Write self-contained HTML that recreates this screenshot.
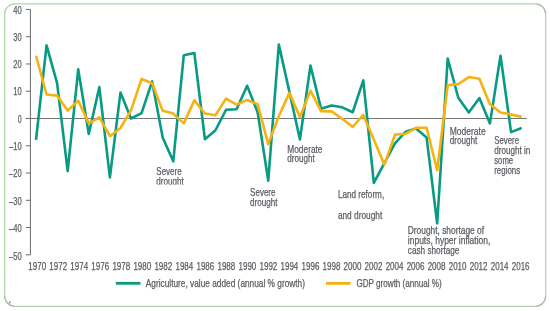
<!DOCTYPE html>
<html><head><meta charset="utf-8"><style>
html,body{margin:0;padding:0;background:#fff;}
svg{display:block;will-change:transform;}
text{font-family:"Liberation Sans",sans-serif;}
</style></head><body>
<svg width="550" height="311" viewBox="0 0 550 311">
<defs><linearGradient id="fg" x1="0" y1="0" x2="1" y2="1"><stop offset="0" stop-color="#a9d6a3"/><stop offset="0.5" stop-color="#b4d2ae"/><stop offset="1" stop-color="#b9c8b6"/></linearGradient>
<clipPath id="c1"><rect x="140" y="150" width="60" height="34.4"/></clipPath></defs>
<path d="M4.6,295.8 L4.6,14.3 A10.5,10.5 0 0 1 15.1,3.8 L535.2,3.8" fill="none" stroke="#acd6a6" stroke-width="1.3"/>
<path d="M545.7,14.3 L545.7,295.8 M535.2,306.3 L15.1,306.3" fill="none" stroke="#b9cab6" stroke-width="1.2"/>
<path d="M535.2,3.8 A10.5,10.5 0 0 1 545.7,14.3 M545.7,295.8 A10.5,10.5 0 0 1 535.2,306.3 M15.1,306.3 A10.5,10.5 0 0 1 4.6,295.8" fill="none" stroke="#a4b9a1" stroke-width="1.3"/>
<path d="M8.7,303.2 L9.7,300.4 L10.8,303.2 Z" fill="#5d6e5c" opacity="0.75"/>
<line x1="30.4" y1="9.42" x2="30.4" y2="254.85" stroke="#6b6b6b" stroke-width="1"/>
<line x1="25.8" y1="9.42" x2="30.4" y2="9.42" stroke="#6b6b6b" stroke-width="1"/>
<line x1="25.8" y1="36.69" x2="30.4" y2="36.69" stroke="#6b6b6b" stroke-width="1"/>
<line x1="25.8" y1="63.96" x2="30.4" y2="63.96" stroke="#6b6b6b" stroke-width="1"/>
<line x1="25.8" y1="91.23" x2="30.4" y2="91.23" stroke="#6b6b6b" stroke-width="1"/>
<line x1="25.8" y1="118.50" x2="30.4" y2="118.50" stroke="#6b6b6b" stroke-width="1"/>
<line x1="25.8" y1="145.77" x2="30.4" y2="145.77" stroke="#6b6b6b" stroke-width="1"/>
<line x1="25.8" y1="173.04" x2="30.4" y2="173.04" stroke="#6b6b6b" stroke-width="1"/>
<line x1="25.8" y1="200.31" x2="30.4" y2="200.31" stroke="#6b6b6b" stroke-width="1"/>
<line x1="25.8" y1="227.58" x2="30.4" y2="227.58" stroke="#6b6b6b" stroke-width="1"/>
<line x1="25.8" y1="254.85" x2="30.4" y2="254.85" stroke="#6b6b6b" stroke-width="1"/>
<line x1="30.4" y1="118.50" x2="527" y2="118.50" stroke="#777" stroke-width="1"/>
<g fill="#5a5d62" stroke="#5a5d62" stroke-width="0.25" font-family="Liberation Sans, sans-serif">
<text x="21.6" y="13.62" font-size="10.3" textLength="8.4" lengthAdjust="spacingAndGlyphs" text-anchor="end" >40</text>
<text x="21.6" y="40.89" font-size="10.3" textLength="8.4" lengthAdjust="spacingAndGlyphs" text-anchor="end" >30</text>
<text x="21.6" y="68.16" font-size="10.3" textLength="8.4" lengthAdjust="spacingAndGlyphs" text-anchor="end" >20</text>
<text x="21.6" y="95.43" font-size="10.3" textLength="8.4" lengthAdjust="spacingAndGlyphs" text-anchor="end" >10</text>
<text x="21.6" y="122.70" font-size="10.3" textLength="3.9" lengthAdjust="spacingAndGlyphs" text-anchor="end" >0</text>
<text x="21.6" y="149.97" font-size="10.3" textLength="12.6" lengthAdjust="spacingAndGlyphs" text-anchor="end" >–10</text>
<text x="21.6" y="177.24" font-size="10.3" textLength="12.6" lengthAdjust="spacingAndGlyphs" text-anchor="end" >–20</text>
<text x="21.6" y="204.51" font-size="10.3" textLength="12.6" lengthAdjust="spacingAndGlyphs" text-anchor="end" >–30</text>
<text x="21.6" y="231.78" font-size="10.3" textLength="12.6" lengthAdjust="spacingAndGlyphs" text-anchor="end" >–40</text>
<text x="21.6" y="259.55" font-size="10.3" textLength="12.6" lengthAdjust="spacingAndGlyphs" text-anchor="end" >–50</text>
<text x="28.30" y="269.6" font-size="10.3" textLength="17.8" lengthAdjust="spacingAndGlyphs" text-anchor="start" >1970</text>
<text x="49.32" y="269.6" font-size="10.3" textLength="17.8" lengthAdjust="spacingAndGlyphs" text-anchor="start" >1972</text>
<text x="70.34" y="269.6" font-size="10.3" textLength="17.8" lengthAdjust="spacingAndGlyphs" text-anchor="start" >1974</text>
<text x="91.36" y="269.6" font-size="10.3" textLength="17.8" lengthAdjust="spacingAndGlyphs" text-anchor="start" >1976</text>
<text x="112.38" y="269.6" font-size="10.3" textLength="17.8" lengthAdjust="spacingAndGlyphs" text-anchor="start" >1978</text>
<text x="133.40" y="269.6" font-size="10.3" textLength="17.8" lengthAdjust="spacingAndGlyphs" text-anchor="start" >1980</text>
<text x="154.42" y="269.6" font-size="10.3" textLength="17.8" lengthAdjust="spacingAndGlyphs" text-anchor="start" >1982</text>
<text x="175.44" y="269.6" font-size="10.3" textLength="17.8" lengthAdjust="spacingAndGlyphs" text-anchor="start" >1984</text>
<text x="196.46" y="269.6" font-size="10.3" textLength="17.8" lengthAdjust="spacingAndGlyphs" text-anchor="start" >1986</text>
<text x="217.48" y="269.6" font-size="10.3" textLength="17.8" lengthAdjust="spacingAndGlyphs" text-anchor="start" >1988</text>
<text x="238.50" y="269.6" font-size="10.3" textLength="17.8" lengthAdjust="spacingAndGlyphs" text-anchor="start" >1990</text>
<text x="259.52" y="269.6" font-size="10.3" textLength="17.8" lengthAdjust="spacingAndGlyphs" text-anchor="start" >1992</text>
<text x="280.54" y="269.6" font-size="10.3" textLength="17.8" lengthAdjust="spacingAndGlyphs" text-anchor="start" >1994</text>
<text x="301.56" y="269.6" font-size="10.3" textLength="17.8" lengthAdjust="spacingAndGlyphs" text-anchor="start" >1996</text>
<text x="322.58" y="269.6" font-size="10.3" textLength="17.8" lengthAdjust="spacingAndGlyphs" text-anchor="start" >1998</text>
<text x="343.60" y="269.6" font-size="10.3" textLength="17.8" lengthAdjust="spacingAndGlyphs" text-anchor="start" >2000</text>
<text x="364.62" y="269.6" font-size="10.3" textLength="17.8" lengthAdjust="spacingAndGlyphs" text-anchor="start" >2002</text>
<text x="385.64" y="269.6" font-size="10.3" textLength="17.8" lengthAdjust="spacingAndGlyphs" text-anchor="start" >2004</text>
<text x="406.66" y="269.6" font-size="10.3" textLength="17.8" lengthAdjust="spacingAndGlyphs" text-anchor="start" >2006</text>
<text x="427.68" y="269.6" font-size="10.3" textLength="17.8" lengthAdjust="spacingAndGlyphs" text-anchor="start" >2008</text>
<text x="448.70" y="269.6" font-size="10.3" textLength="17.8" lengthAdjust="spacingAndGlyphs" text-anchor="start" >2010</text>
<text x="469.72" y="269.6" font-size="10.3" textLength="17.8" lengthAdjust="spacingAndGlyphs" text-anchor="start" >2012</text>
<text x="490.74" y="269.6" font-size="10.3" textLength="17.8" lengthAdjust="spacingAndGlyphs" text-anchor="start" >2014</text>
<text x="511.76" y="269.6" font-size="10.3" textLength="17.8" lengthAdjust="spacingAndGlyphs" text-anchor="start" >2016</text>
<text x="156.3" y="175.20" font-size="10.3" textLength="25.4" lengthAdjust="spacingAndGlyphs" text-anchor="start" clip-path="url(#c1)">Severe</text>
<text x="156.3" y="184.70" font-size="10.3" textLength="27.4" lengthAdjust="spacingAndGlyphs" text-anchor="start" clip-path="url(#c1)">drought</text>
<text x="250.1" y="196.30" font-size="10.3" textLength="25.4" lengthAdjust="spacingAndGlyphs" text-anchor="start" >Severe</text>
<text x="250.1" y="205.50" font-size="10.3" textLength="27.4" lengthAdjust="spacingAndGlyphs" text-anchor="start" >drought</text>
<text x="287.3" y="152.50" font-size="10.3" textLength="35.2" lengthAdjust="spacingAndGlyphs" text-anchor="start" >Moderate</text>
<text x="287.3" y="162.00" font-size="10.3" textLength="27.4" lengthAdjust="spacingAndGlyphs" text-anchor="start" >drought</text>
<text x="337.9" y="198.40" font-size="10.3" textLength="46.3" lengthAdjust="spacingAndGlyphs" text-anchor="start" >Land reform,</text>
<text x="337.9" y="218.90" font-size="10.3" textLength="44.3" lengthAdjust="spacingAndGlyphs" text-anchor="start" >and drought</text>
<text x="407.8" y="233.90" font-size="10.3" textLength="76.2" lengthAdjust="spacingAndGlyphs" text-anchor="start" >Drought, shortage of</text>
<text x="407.8" y="244.00" font-size="10.3" textLength="82.6" lengthAdjust="spacingAndGlyphs" text-anchor="start" >inputs, hyper inflation,</text>
<text x="407.8" y="254.10" font-size="10.3" textLength="51.6" lengthAdjust="spacingAndGlyphs" text-anchor="start" >cash shortage</text>
<text x="449.7" y="134.90" font-size="10.3" textLength="36.0" lengthAdjust="spacingAndGlyphs" text-anchor="start" >Moderate</text>
<text x="449.7" y="144.10" font-size="10.3" textLength="27.6" lengthAdjust="spacingAndGlyphs" text-anchor="start" >drought</text>
<text x="494.2" y="144.30" font-size="10.3" textLength="24.8" lengthAdjust="spacingAndGlyphs" text-anchor="start" >Severe</text>
<text x="494.2" y="154.30" font-size="10.3" textLength="36.2" lengthAdjust="spacingAndGlyphs" text-anchor="start" >drought in</text>
<text x="494.2" y="164.30" font-size="10.3" textLength="19.0" lengthAdjust="spacingAndGlyphs" text-anchor="start" >some</text>
<text x="494.2" y="174.30" font-size="10.3" textLength="26.0" lengthAdjust="spacingAndGlyphs" text-anchor="start" >regions</text>
<text x="145.8" y="286.7" font-size="10.3" textLength="159.2" lengthAdjust="spacingAndGlyphs" text-anchor="start" >Agriculture, value added (annual % growth)</text>
<text x="356.5" y="286.7" font-size="10.3" textLength="85.2" lengthAdjust="spacingAndGlyphs" text-anchor="start" >GDP growth (annual %)</text>
</g>
<polyline points="36.00,139.77 46.56,45.42 57.11,83.05 67.67,171.13 78.23,69.41 88.78,134.04 99.34,87.14 109.90,177.40 120.46,92.59 131.01,118.50 141.57,113.05 152.13,81.41 162.68,137.59 173.24,161.31 183.80,55.23 194.36,53.05 204.91,139.23 215.47,130.23 226.03,109.77 236.58,109.23 247.14,85.78 257.70,112.50 268.25,180.68 278.81,44.60 289.37,91.64 299.93,139.50 310.48,65.60 321.04,108.68 331.60,105.41 342.15,107.32 352.71,112.23 363.27,80.32 373.82,182.86 384.38,163.22 394.94,143.32 405.50,131.86 416.05,128.59 426.61,137.59 437.17,223.49 447.72,58.51 458.28,97.77 468.84,112.50 479.39,98.05 489.95,123.41 500.51,55.78 511.06,132.13 521.62,128.04" fill="none" stroke="#089a82" stroke-width="2.6" stroke-linejoin="round" stroke-linecap="butt"/>
<polyline points="36.00,55.78 46.56,94.50 57.11,95.59 67.67,110.59 78.23,100.77 88.78,123.41 99.34,117.41 109.90,136.23 120.46,128.04 131.01,110.32 141.57,78.96 152.13,83.32 162.68,110.86 173.24,113.59 183.80,123.41 194.36,100.23 204.91,113.59 215.47,115.23 226.03,98.59 236.58,104.59 247.14,99.96 257.70,104.32 268.25,144.13 278.81,116.32 289.37,92.87 299.93,117.14 310.48,90.68 321.04,111.14 331.60,111.41 342.15,118.77 352.71,126.95 363.27,114.95 373.82,139.50 384.38,164.86 394.94,134.59 405.50,133.77 416.05,127.77 426.61,127.77 437.17,170.31 447.72,85.23 458.28,84.14 468.84,77.05 479.39,78.69 489.95,104.32 500.51,112.50 511.06,114.41 521.62,116.86" fill="none" stroke="#f6b113" stroke-width="2.6" stroke-linejoin="round" stroke-linecap="butt"/>
<line x1="115.8" y1="283.3" x2="140.5" y2="283.3" stroke="#089a82" stroke-width="2.8"/>
<line x1="326" y1="283.4" x2="350.5" y2="283.4" stroke="#f6b113" stroke-width="2.8"/>
</svg>
</body></html>
